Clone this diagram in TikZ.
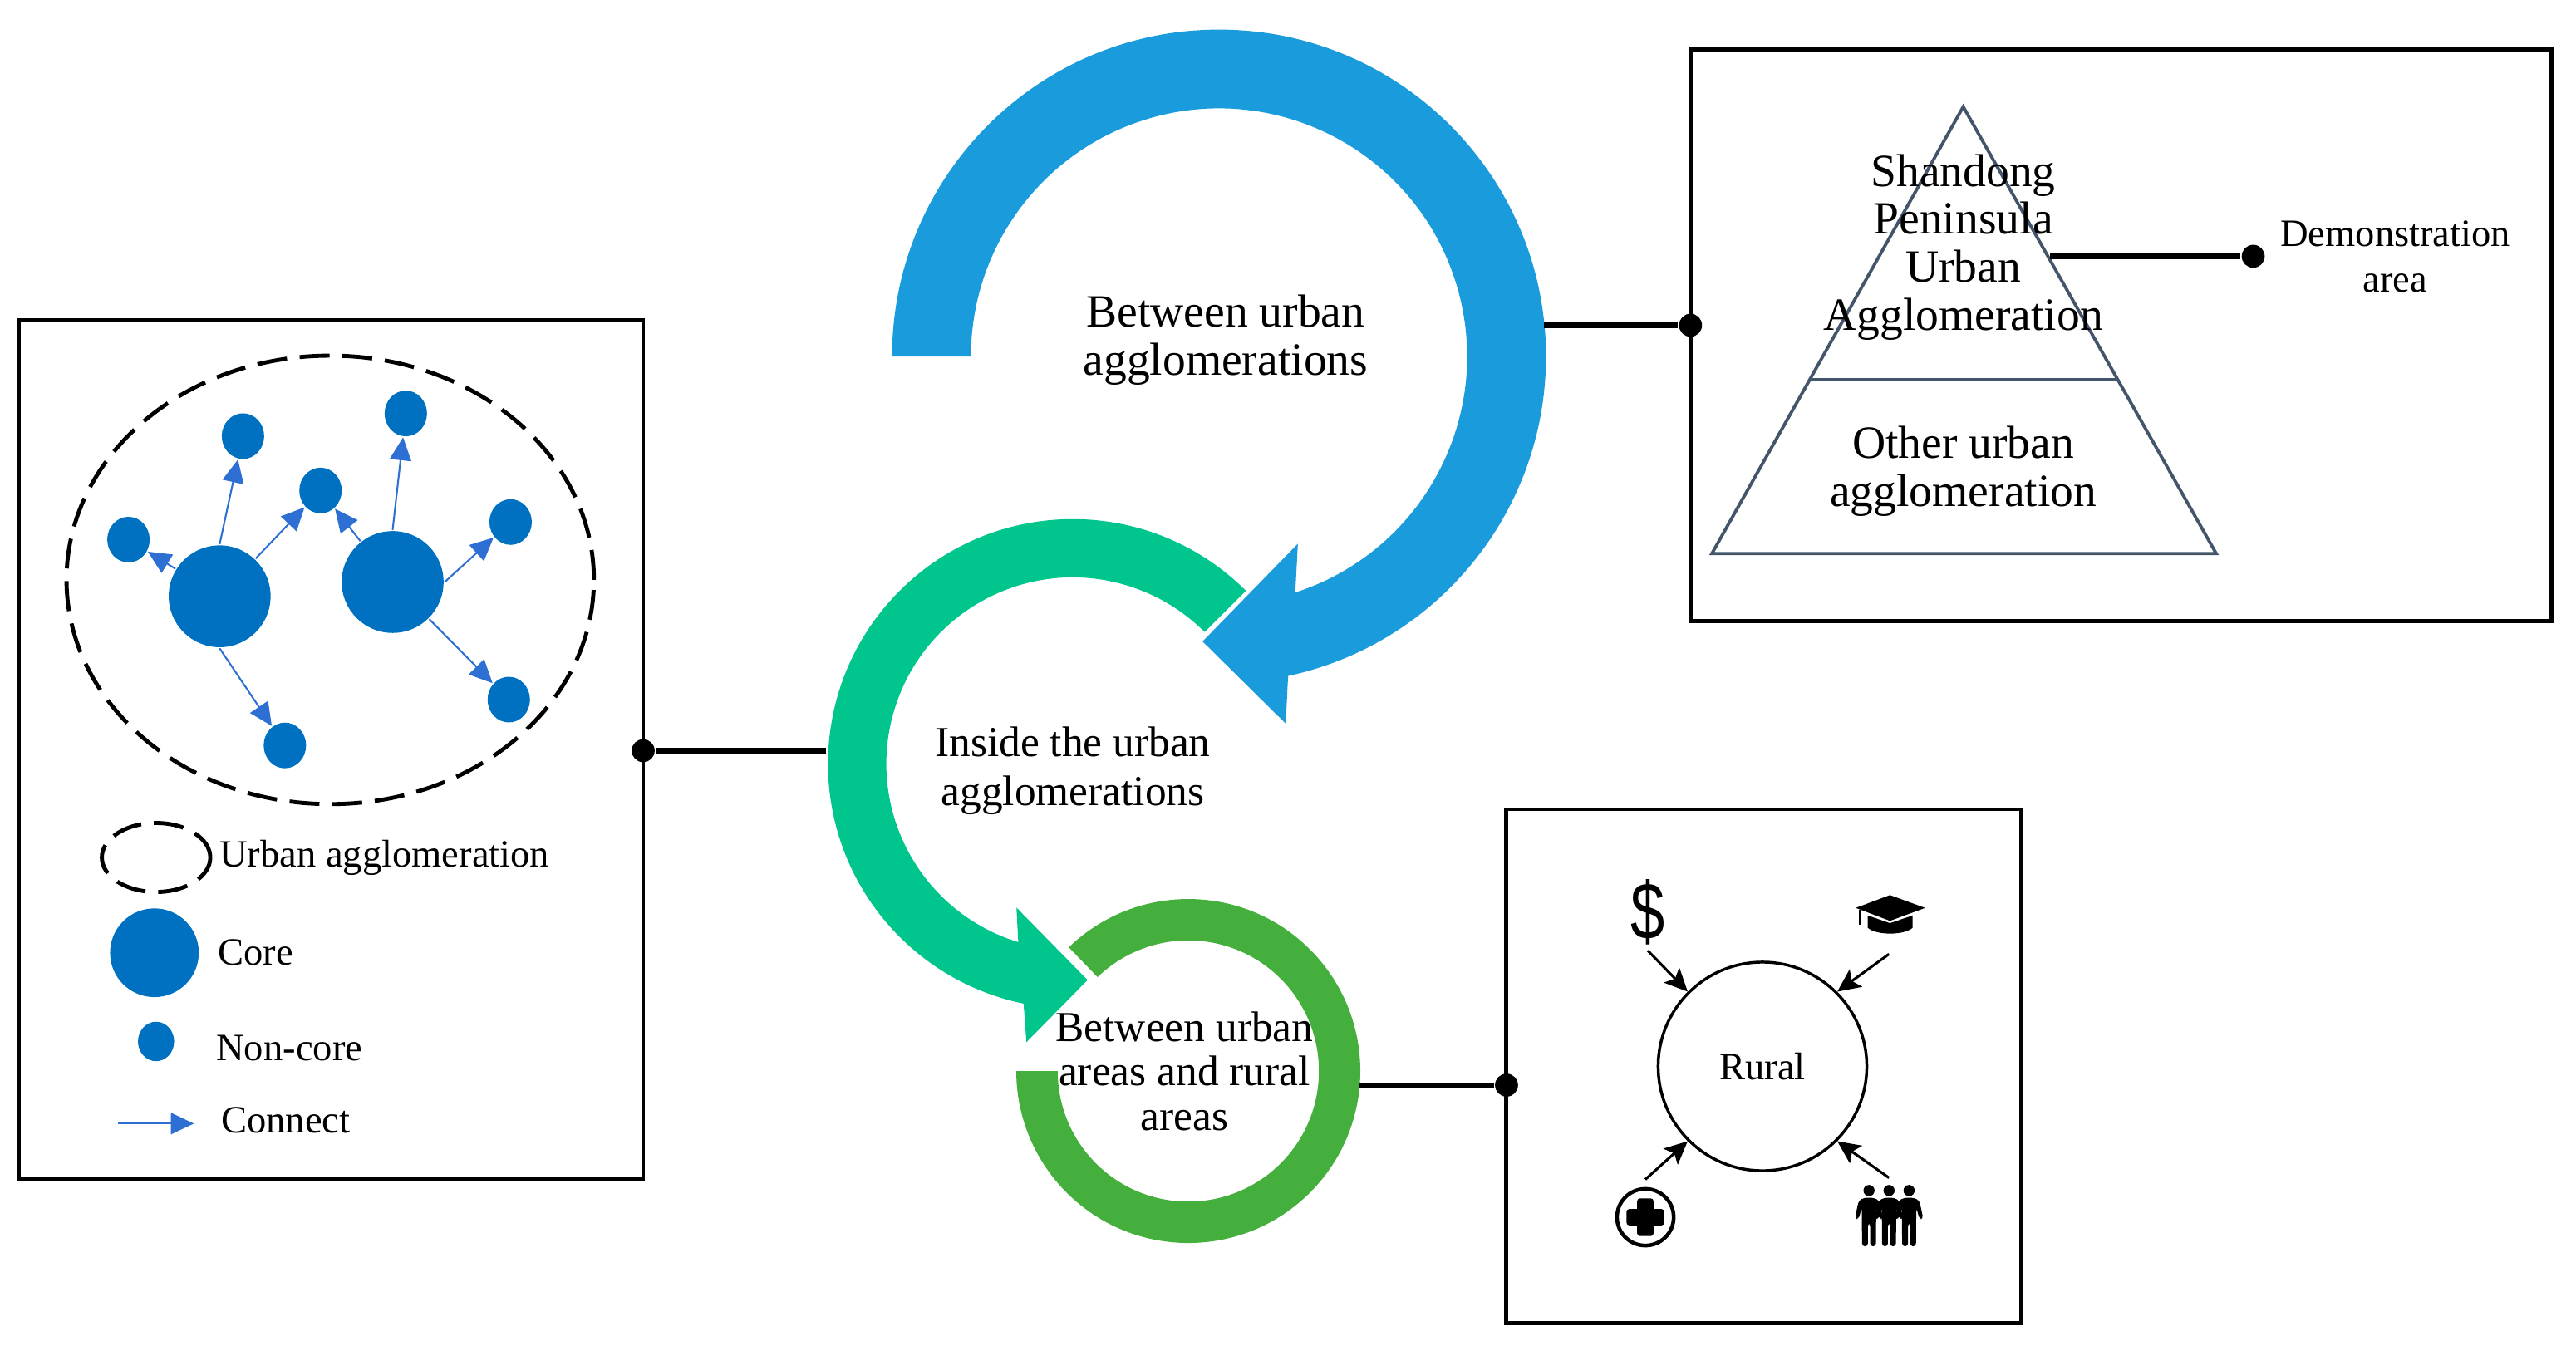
\documentclass[tikz,border=0pt]{standalone}
\usepackage{fontspec}
\setmainfont{Liberation Serif}
\newfontfamily\iconfont{Liberation Sans}
\usetikzlibrary{arrows.meta, positioning, shapes, calc}
\definecolor{arcblue}{HTML}{1A9BDB}
\definecolor{arcteal}{HTML}{00C68D}
\definecolor{arcgreen}{HTML}{45AF3D}
\definecolor{coreblue}{HTML}{0070C0}
\definecolor{linkblue}{HTML}{2E6FD3}
\definecolor{slate}{HTML}{44546A}

\begin{document}
\begin{tikzpicture}[
                panel style/.style={draw=black, line width=0.65pt},
                dot style/.style={circle, fill=black, inner sep=0pt, minimum size=0.14cm},
                link style/.style={draw=black, line width=0.9pt},
                core style/.style={circle, fill=coreblue, inner sep=0pt, minimum size=0.62cm},
                noncore style/.style={ellipse, fill=coreblue, inner sep=0pt, minimum width=0.258cm, minimum height=0.278cm},
                connect style/.style={draw=linkblue, line width=0.3pt, -{Triangle[length=0.14cm,width=0.13cm]}},
                dash style/.style={draw=black, line width=0.7pt, dash pattern=on 5.2pt off 2.2pt},
                big text/.style={align=center, font=\fontsize{8}{8.3}\selectfont},
                mid text/.style={align=center, font=\fontsize{7.4}{8.5}\selectfont},
                low text/.style={align=center, font=\fontsize{7.4}{7.7}\selectfont},
                small text/.style={align=center, font=\fontsize{6.7}{7.9}\selectfont},
                legend text/.style={anchor=west, inner sep=0pt, font=\fontsize{6.7}{8}\selectfont},
                inflow style/.style={draw=black, line width=0.45pt, -{Stealth[length=0.14cm,width=0.13cm,inset=0.03cm]}},
                person/.pic={
                    \path[pic actions] (0,0) circle (3.4);
                    \path[pic actions, rounded corners=0.5pt] (-3,-4.4) -- (3,-4.4) -- (6.3,-6.2) -- (8.6,-17) -- (6.4,-17.5)
                        -- (4.4,-10.5) -- (4.2,-34) -- (0.7,-34) -- (0.7,-20) -- (-0.7,-20) -- (-0.7,-34) -- (-4.2,-34)
                        -- (-4.4,-10.5) -- (-6.4,-17.5) -- (-8.6,-17) -- (-6.3,-6.2) -- cycle;
                }
]
    \useasboundingbox (0,0) rectangle (15.68,8.19);

    % Three arcs
        \coordinate (blue c) at (7.42,6.02);
        \coordinate (teal c) at (6.53,3.54);
        \coordinate (green c) at (7.233,1.67);
        \fill[arcblue] ($(blue c)+(180:1.99)$) arc[start angle=180, end angle=-77.8, radius=1.99]
            -- (7.826,3.785) -- (7.32,4.285) -- (7.90,4.88) -- ($(blue c)+(-72.1:1.51)$)
            arc[start angle=-72.1, end angle=180, radius=1.51] -- cycle;
        \fill[arcteal] ($(teal c)+(45:1.49)$) arc[start angle=45, end angle=258.4, radius=1.49]
            -- (6.248,1.846) -- (6.62,2.224) -- (6.187,2.665) -- ($(teal c)+(253:1.135)$)
            arc[start angle=253, end angle=45, radius=1.135] -- cycle;
        \fill[arcgreen] ($(green c)+(134:1.047)$) arc[start angle=134, end angle=-180, radius=1.047]
            -- ($(green c)+(180:0.795)$) arc[start angle=-180, end angle=134, radius=0.795] -- cycle;

    % Arc labels
        \node[big text] (between groups) at (7.46,6.12) {Between urban\\agglomerations};
        \node[mid text] (inside group) at (6.53,3.50) {Inside the urban\\agglomerations};
        \node[low text] (urban rural) at (7.21,1.67) {Between urban\\areas and rural\\areas};

    % Left panel
        \node[panel style, minimum width=3.799cm, minimum height=5.23cm, inner sep=0pt] (left panel) at (2.0155,3.625) {};
        \node[dash style, ellipse, minimum width=3.21cm, minimum height=2.73cm, inner sep=0pt] (cluster) at (2.01,4.66) {};
        \node[core style] (c1) at (1.337,4.56) {};
        \node[core style] (c2) at (2.39,4.647) {};
        \node[noncore style] (n1) at (0.782,4.905) {};
        \node[noncore style] (n2) at (1.479,5.535) {};
        \node[noncore style] (n3) at (1.951,5.204) {};
        \node[noncore style] (n4) at (2.47,5.673) {};
        \node[noncore style] (n5) at (3.108,5.012) {};
        \node[noncore style] (n6) at (3.097,3.931) {};
        \node[noncore style] (n7) at (1.734,3.652) {};
        \draw[connect style] (c1) -- (n1);
        \draw[connect style] (c1.north) -- (n2);
        \draw[connect style] (c1) -- (n3);
        \draw[connect style] (c1.south) -- (n7);
        \draw[connect style] (c2) -- (n3);
        \draw[connect style] (c2.north) -- (n4);
        \draw[connect style] (c2.east) -- (n5);
        \draw[connect style] (c2) -- (n6);

    % Legend
        \node[dash style, ellipse, minimum width=0.66cm, minimum height=0.42cm, inner sep=0pt] (legend cluster) at (0.95,2.97) {};
        \node[legend text] (legend cluster text) at (1.33,2.97) {Urban agglomeration};
        \node[core style, minimum size=0.54cm] (legend core) at (0.94,2.39) {};
        \node[legend text] (legend core text) at (1.32,2.39) {Core};
        \node[noncore style, minimum width=0.22cm, minimum height=0.24cm] (legend noncore) at (0.95,1.85) {};
        \node[legend text] (legend noncore text) at (1.31,1.81) {Non-core};
        \coordinate (legend a) at (0.72,1.35);
        \coordinate (legend b) at (1.18,1.35);
        \draw[connect style] (legend a) -- (legend b);
        \node[legend text] (legend connect text) at (1.34,1.37) {Connect};

    % Top right panel with the triangle
        \node[panel style, minimum width=5.24cm, minimum height=3.48cm, inner sep=0pt] (top panel) at (12.91,6.15) {};
        \coordinate (apex) at (11.95,7.54);
        \coordinate (base l) at (10.42,4.82);
        \coordinate (base r) at (13.49,4.82);
        \coordinate (cross l) at (11.02,5.88);
        \coordinate (cross r) at (12.89,5.88);
        \draw[slate, line width=0.55pt] (apex) -- (base r) -- (base l) -- cycle;
        \draw[slate, line width=0.55pt] (cross l) -- (cross r);
        \node[big text] (shandong) at (11.95,6.685) {Shandong\\Peninsula\\Urban\\Agglomeration};
        \node[big text] (others) at (11.95,5.32) {Other urban\\agglomeration};
        \node[small text] (demo) at (14.58,6.63) {Demonstration\\area};

    % Rural panel
        \node[panel style, minimum width=3.132cm, minimum height=3.13cm, inner sep=0pt] (rural panel) at (10.734,1.699) {};
        \node[circle, draw=black, line width=0.5pt, minimum size=1.27cm, inner sep=0pt, font=\fontsize{6.7}{8}\selectfont] (rural) at (10.728,1.698) {Rural};

        % money
        \node[inner sep=0pt, transform shape, xscale=0.76, font=\iconfont\fontsize{14}{14}\selectfont] (money) at (10.03,2.636) {\$};
        % cap
        \fill (11.296,2.663) -- (11.504,2.741) -- (11.718,2.663) -- (11.504,2.584) -- cycle;
        \fill (11.369,2.617) -- (11.369,2.542) .. controls (11.42,2.495) and (11.59,2.495) .. (11.642,2.542) -- (11.642,2.617) -- (11.504,2.57) -- cycle;
        \draw[line width=0.55pt] (11.322,2.65) -- (11.322,2.559);
        % plus
        \node[circle, draw=black, line width=0.65pt, minimum size=0.345cm, inner sep=0pt] (plus) at (10.015,0.78) {};
        \fill[rounded corners=0.5pt] (9.965,0.665) rectangle (10.065,0.895);
        \fill[rounded corners=0.5pt] (9.90,0.73) rectangle (10.13,0.83);
        % crowd
        \begin{scope}[x=0.01cm, y=0.01cm]
            \pic[fill=black] at (1138.3,94.3) {person};
            \pic[fill=black] at (1162.7,94.3) {person};
            \pic[fill=black, preaction={draw=white, line width=0.6pt}] at (1150.5,94.3) {person};
        \end{scope}

        \coordinate (money foot) at (10.03,2.403);
        \coordinate (cap foot) at (11.498,2.382);
        \coordinate (plus top) at (10.015,1.01);
        \coordinate (crowd top) at (11.498,1.02);
        \draw[inflow style] (money foot) -- (rural.135);
        \draw[inflow style] (cap foot) -- (rural.45);
        \draw[inflow style] (plus top) -- (rural.225);
        \draw[inflow style] (crowd top) -- (rural.315);

    % Links
        \node[dot style] (top dot) at (10.29,6.21) {};
        \node[dot style] (left dot) at (3.915,3.62) {};
        \node[dot style] (rural dot) at (9.17,1.584) {};
        \node[dot style] (demo dot) at (13.715,6.63) {};
        \coordinate (blue out) at (9.40,6.21);
        \coordinate (teal out) at (5.03,3.62);
        \coordinate (green out) at (8.27,1.584);
        \coordinate (peak out) at (12.48,6.63);
        \draw[link style] (blue out) -- (top dot);
        \draw[link style] (left dot) -- (teal out);
        \draw[link style] (green out) -- (rural dot);
        \draw[link style] (peak out) -- (demo dot);
\end{tikzpicture}
\end{document}
